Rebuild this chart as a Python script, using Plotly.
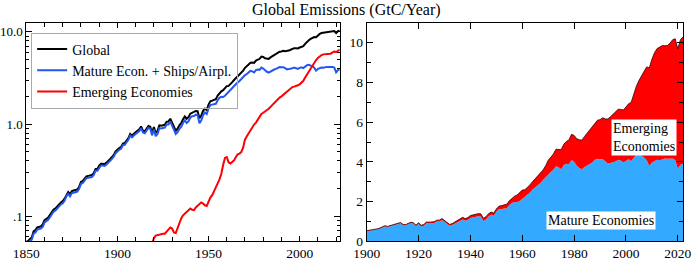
import plotly.graph_objects as go

years = list(range(1850, 2023))

# Global fossil emissions, GtC/yr (1850-2022)
global_em = [
    0.054, 0.054, 0.057, 0.059, 0.069, 0.071, 0.076, 0.077, 0.078, 0.082,
    0.091, 0.094, 0.097, 0.104, 0.112, 0.119, 0.122, 0.130, 0.135, 0.142,
    0.147, 0.156, 0.173, 0.184, 0.174, 0.188, 0.191, 0.195, 0.196, 0.210,
    0.236, 0.243, 0.256, 0.272, 0.275, 0.277, 0.281, 0.295, 0.327, 0.327,
    0.356, 0.372, 0.374, 0.370, 0.383, 0.406, 0.419, 0.440, 0.465, 0.507,
    0.534, 0.552, 0.566, 0.617, 0.624, 0.663, 0.707, 0.784, 0.750, 0.785,
    0.819, 0.836, 0.879, 0.943, 0.850, 0.838, 0.901, 0.955, 0.936, 0.806,
    0.932, 0.803, 0.845, 0.970, 0.963, 0.975, 0.983, 1.062, 1.065, 1.145,
    1.053, 0.940, 0.847, 0.893, 0.973, 1.027, 1.130, 1.209, 1.142, 1.192,
    1.299, 1.334, 1.342, 1.391, 1.383, 1.160, 1.238, 1.392, 1.469, 1.419,
    1.630, 1.768, 1.796, 1.841, 1.865, 2.043, 2.178, 2.270, 2.330, 2.462,
    2.577, 2.594, 2.700, 2.848, 3.008, 3.145, 3.305, 3.411, 3.588, 3.800,
    4.076, 4.231, 4.399, 4.635, 4.644, 4.615, 4.883, 5.029, 5.105, 5.387,
    5.332, 5.168, 5.113, 5.094, 5.280, 5.439, 5.607, 5.752, 5.965, 6.097,
    6.127, 6.217, 6.164, 6.162, 6.266, 6.398, 6.542, 6.651, 6.643, 6.610,
    6.765, 6.927, 6.996, 7.416, 7.807, 8.093, 8.370, 8.566, 8.783, 8.740,
    9.167, 9.497, 9.704, 9.776, 9.855, 9.850, 9.860, 9.980, 10.15, 10.20,
    9.70, 10.15, 10.30,
]

# Emerging economies, GtC/yr (1850-2022)
emerging_em = [
    0.003, 0.003, 0.003, 0.003, 0.004, 0.004, 0.004, 0.004, 0.004, 0.005,
    0.005, 0.005, 0.005, 0.006, 0.006, 0.006, 0.006, 0.007, 0.007, 0.007,
    0.008, 0.008, 0.008, 0.009, 0.009, 0.009, 0.010, 0.010, 0.010, 0.011,
    0.011, 0.012, 0.012, 0.012, 0.013, 0.013, 0.014, 0.014, 0.015, 0.015,
    0.016, 0.016, 0.017, 0.017, 0.018, 0.019, 0.019, 0.020, 0.021, 0.022,
    0.023, 0.024, 0.025, 0.026, 0.027, 0.028, 0.029, 0.031, 0.032, 0.033,
    0.035, 0.036, 0.038, 0.040, 0.039, 0.040, 0.042, 0.044, 0.046, 0.050,
    0.058, 0.062, 0.063, 0.064, 0.064, 0.065, 0.065, 0.068, 0.072, 0.076,
    0.074, 0.067, 0.066, 0.075, 0.085, 0.095, 0.103, 0.108, 0.112, 0.118,
    0.122, 0.118, 0.117, 0.125, 0.130, 0.138, 0.142, 0.138, 0.132, 0.130,
    0.148, 0.160, 0.170, 0.185, 0.205, 0.228, 0.252, 0.290, 0.360, 0.430,
    0.440, 0.385, 0.375, 0.390, 0.405, 0.440, 0.470, 0.480, 0.500, 0.560,
    0.680, 0.740, 0.800, 0.860, 0.910, 0.990, 1.040, 1.130, 1.230, 1.290,
    1.330, 1.370, 1.420, 1.470, 1.540, 1.620, 1.700, 1.780, 1.860, 1.940,
    2.000, 2.080, 2.130, 2.240, 2.320, 2.430, 2.520, 2.550, 2.580, 2.640,
    2.700, 2.800, 2.950, 3.200, 3.450, 3.700, 4.050, 4.350, 4.700, 4.950,
    5.200, 5.450, 5.600, 5.700, 5.720, 5.680, 5.700, 5.800, 5.980, 6.100,
    6.050, 6.300, 6.400,
]

# Mature economies (incl. ships/airplanes) = global minus emerging
mature_em = [round(g - e, 3) for g, e in zip(global_em, emerging_em)]

right_start = 1900
r_idx = years.index(right_start)
years_r = years[r_idx:]
mature_r = mature_em[r_idx:]
emerging_r = emerging_em[r_idx:]

log_major_vals = [0.1, 1, 10]
log_major_text = [".1", "1.0", "10.0"]
log_minor_vals = [m * d for d in (0.01, 0.1, 1, 10) for m in range(2, 10)]

FONT = "Liberation Serif"
BLUE_LINE = "#2457f0"
BLUE_FILL = "#33aaff"
RED = "#ff0000"

fig = go.Figure()

fig.add_trace(go.Scatter(x=years, y=global_em, mode="lines", name="Global",
                         line=dict(color="black", width=2), xaxis="x", yaxis="y"))
fig.add_trace(go.Scatter(x=years, y=mature_em, mode="lines", name="Mature Econ. + Ships/Airpl.",
                         line=dict(color=BLUE_LINE, width=2), xaxis="x", yaxis="y"))
fig.add_trace(go.Scatter(x=years, y=emerging_em, mode="lines", name="Emerging Economies",
                         line=dict(color=RED, width=2), xaxis="x", yaxis="y"))

fig.add_trace(go.Scatter(x=years_r, y=mature_r, mode="lines", stackgroup="s",
                         fillcolor=BLUE_FILL, line=dict(width=0, color=BLUE_FILL),
                         showlegend=False, xaxis="x2", yaxis="y2"))
fig.add_trace(go.Scatter(x=years_r, y=emerging_r, mode="lines", stackgroup="s",
                         fillcolor=RED, line=dict(width=0.8, color="#300000"),
                         showlegend=False, xaxis="x2", yaxis="y2"))

axis_common = dict(showline=True, linecolor="black", linewidth=1, mirror="allticks",
                   ticks="inside", tickcolor="black", showgrid=False, zeroline=False,
                   automargin=False,
                   tickfont=dict(family=FONT, size=13.5, color="black"))

fig.update_layout(
    width=692, height=260,
    margin=dict(l=0, r=0, t=0, b=0),
    paper_bgcolor="white", plot_bgcolor="white",
    font=dict(family=FONT, size=14, color="black"),
    xaxis=dict(domain=[0.038, 0.491], range=[1850, 2022], anchor="y",
               tickvals=[1850, 1900, 1950, 2000], ticklen=5,
               minor=dict(tickvals=list(range(1860, 2021, 10)), ticks="inside", ticklen=4,
                          tickcolor="black", showgrid=False),
               **axis_common),
    yaxis=dict(domain=[0.072, 0.912], type="log", range=[-1.269, 1.097], anchor="x",
               tickvals=log_major_vals, ticktext=log_major_text, ticklen=6,
               minor=dict(tickvals=log_minor_vals, ticks="inside", ticklen=3,
                          tickcolor="black", showgrid=False),
               **{**axis_common, "tickfont": dict(family=FONT, size=13, color="black")}),
    xaxis2=dict(domain=[0.530, 0.987], range=[1900, 2022], anchor="y2",
                tickvals=list(range(1900, 2021, 20)), ticklen=6,
                **axis_common),
    yaxis2=dict(domain=[0.072, 0.912], range=[0, 11], anchor="x2",
                tickvals=list(range(0, 11, 2)), ticklen=6,
                minor=dict(tickvals=list(range(1, 11, 2)), ticks="inside", ticklen=4,
                           tickcolor="black", showgrid=False),
                **axis_common),
    legend=dict(x=0.045, y=0.875, xanchor="left", yanchor="top",
                bgcolor="rgba(255,255,255,0)", bordercolor="#aaaaaa", borderwidth=1,
                font=dict(family=FONT, size=14, color="black"),
                traceorder="normal", tracegroupgap=0, itemwidth=30),
    showlegend=True,
)

fig.add_annotation(text="Global Emissions (GtC/Year)", xref="paper", yref="paper",
                   x=0.5, y=0.962, xanchor="center", yanchor="middle", showarrow=False,
                   font=dict(family=FONT, size=16, color="black"))

fig.add_annotation(text="Mature Economies", xref="x2", yref="y2", x=1990.4, y=1.05,
                   xanchor="center", yanchor="middle", showarrow=False,
                   bgcolor="white", borderpad=1,
                   font=dict(family=FONT, size=14, color="black"))
fig.add_annotation(text="Emerging<br>Economies", xref="x2", yref="y2", x=1994.2, y=5.25,
                   xanchor="left", yanchor="middle", showarrow=False, align="left",
                   bgcolor="white", borderpad=1,
                   font=dict(family=FONT, size=14, color="black"))

fig.write_html("out.html", config={"displayModeBar": False},
               post_script="document.body.style.margin='0px';")
